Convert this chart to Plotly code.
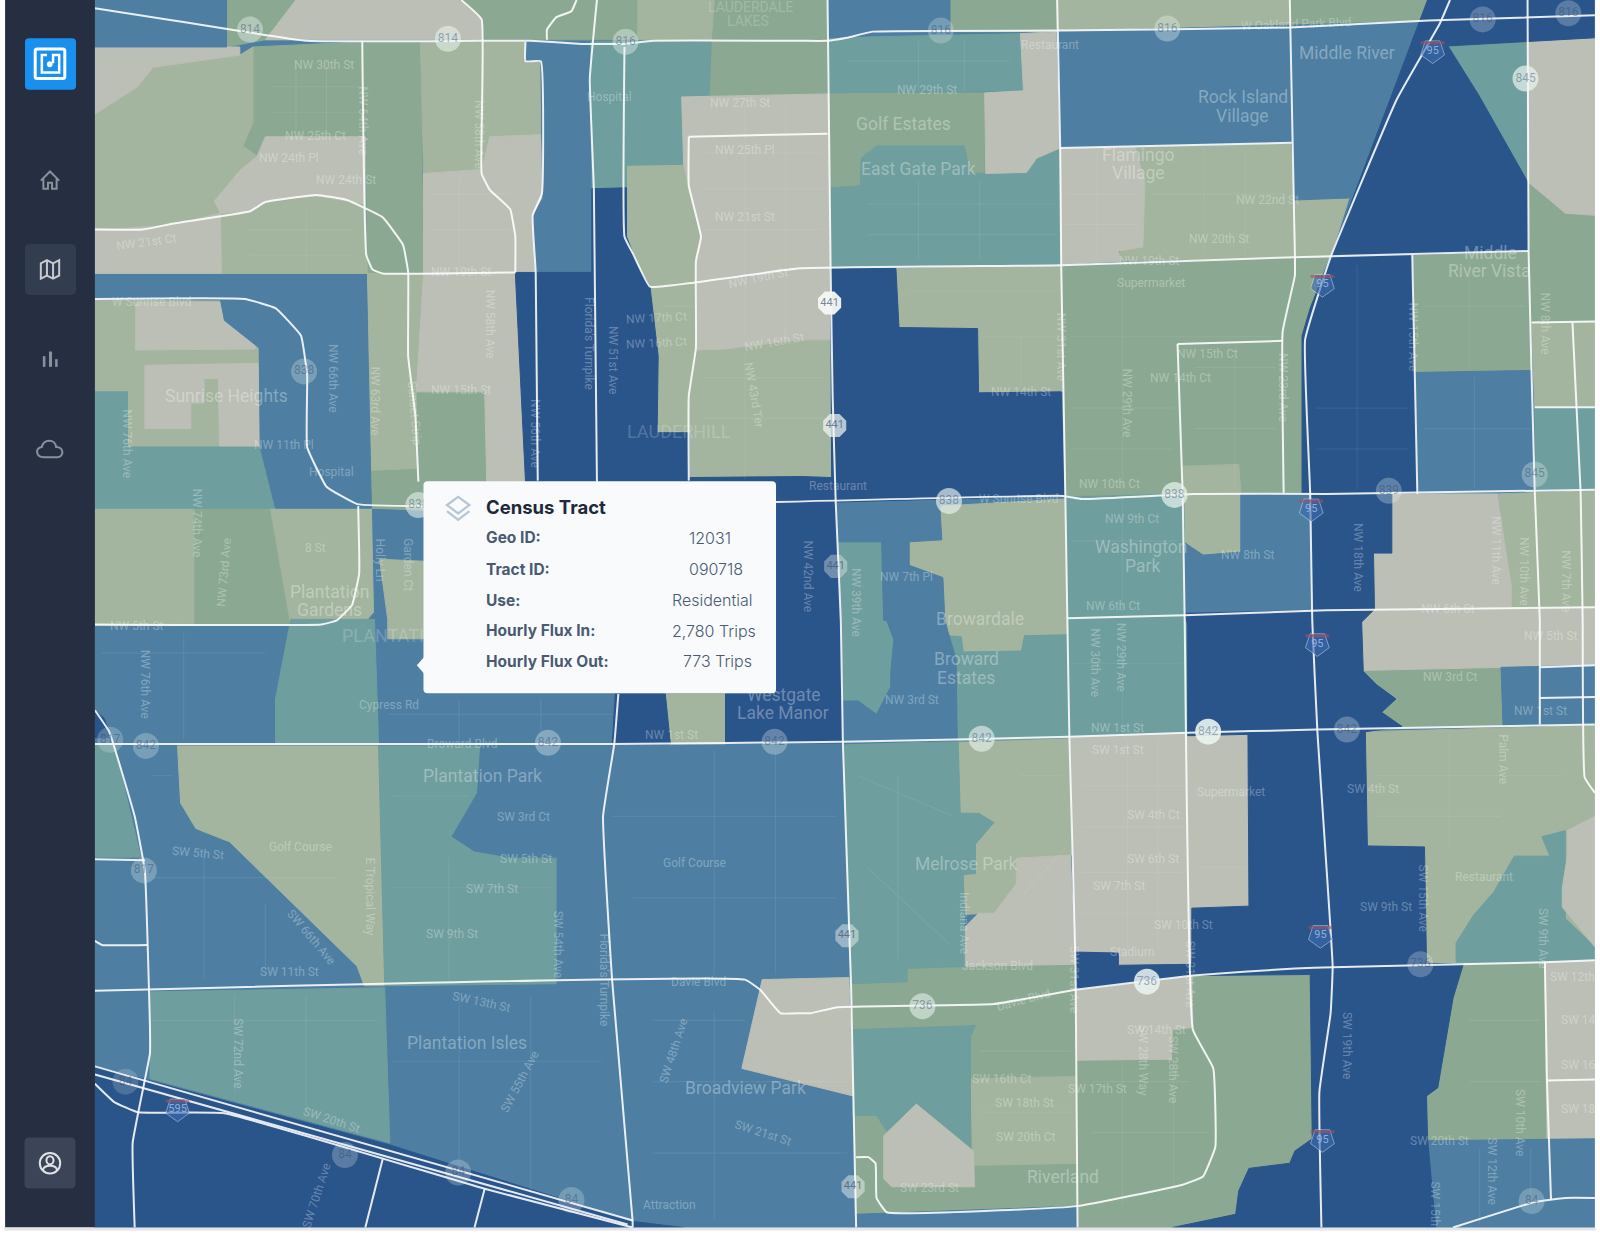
import plotly.graph_objects as go

# everything is in the units of the picture as seen at 1568 wide
map_left, map_right, map_bottom = 93, 1563, 1203

color_dark = "#2A558B"
color_blue = "#4E7FA2"
color_teal = "#6F9E9E"
color_green = "#8BA992"
color_light = "#A3B59E"
color_gray = "#BBBFB6"

base_tract = [(93, 0), (1563, 0), (1563, 1203), (93, 1203)]

green_tracts = [
    [(248, 46), (358, 41), (358, 134), (260, 134), (252, 153), (238, 143), (248, 120)],
    [(358, 41), (412, 41), (415, 268), (360, 268)],
    [(222, 0), (290, 0), (260, 39), (222, 46)],
    [(450, 0), (565, 0), (537, 39), (472, 39), (472, 19)],
    [(565, 0), (625, 0), (625, 39), (537, 39)],
    [(700, 0), (811, 0), (811, 37), (697, 40)],
    [(697, 40), (812, 37), (812, 92), (668, 95), (695, 93)],
    [(408, 384), (475, 384), (477, 472), (415, 472), (415, 500), (364, 498), (363, 461), (408, 459)],
    [(190, 498), (265, 498), (285, 613), (190, 613)],
    [(931, 0), (1036, 0), (1036, 31), (931, 31)],
    [(1264, 0), (1399, 0), (1392, 23), (1264, 27)],
    [(811, 91), (965, 91), (965, 170), (951, 170), (945, 143), (859, 143), (844, 155), (843, 182), (814, 184)],
    [(1040, 260), (1304, 252), (1277, 329), (1276, 483), (1044, 486)],
    [(1384, 250), (1498, 247), (1501, 364), (1387, 365)],
    [(1497, 178), (1534, 209), (1563, 211), (1563, 316), (1501, 316), (1498, 246)],
    [(1336, 657), (1471, 654), (1473, 712), (1374, 713), (1354, 698), (1368, 685), (1349, 671)],
    [(1434, 945), (1514, 943), (1516, 1116), (1399, 1118), (1398, 1074), (1409, 1066), (1415, 1032), (1424, 978)],
    [(834, 964), (889, 962), (889, 949), (1054, 945), (1056, 1182), (839, 1190)],
    [(1056, 1039), (1148, 1038), (1149, 1009), (1169, 1007), (1169, 956), (1284, 955), (1286, 1116), (1269, 1128), (1264, 1140), (1224, 1145), (1214, 1167), (1211, 1190), (1149, 1203), (1056, 1203)],
    [(480, 1190), (492, 1180), (600, 1203), (470, 1203)],
]

light_tracts = [
    [(93, 112), (135, 85), (150, 66), (235, 54), (248, 46), (248, 120), (238, 143), (252, 153), (235, 167), (210, 197), (216, 209), (170, 220), (120, 224), (93, 224)],
    [(215, 209), (245, 207), (260, 197), (310, 192), (358, 200), (360, 268), (217, 268)],
    [(412, 41), (515, 41), (515, 60), (530, 60), (530, 132), (480, 134), (472, 166), (415, 170)],
    [(625, 0), (700, 0), (697, 40), (625, 39)],
    [(614, 162), (670, 161), (675, 180), (687, 232), (682, 252), (683, 279), (637, 281), (625, 260), (614, 232)],
    [(637, 281), (683, 279), (683, 343), (710, 342), (784, 333), (814, 333), (818, 472), (675, 472), (675, 424), (644, 424), (645, 349)],
    [(93, 293), (216, 294), (220, 314), (254, 341), (255, 438), (93, 438)],
    [(360, 268), (415, 268), (408, 384), (408, 459), (363, 461)],
    [(93, 498), (190, 498), (190, 613), (93, 613)],
    [(265, 498), (364, 498), (366, 600), (355, 613), (285, 613)],
    [(372, 548), (415, 550), (415, 626), (380, 626), (380, 607)],
    [(652, 680), (711, 680), (711, 729), (657, 729)],
    [(174, 731), (371, 731), (377, 966), (357, 966), (350, 947), (275, 874), (225, 825), (192, 812), (177, 787)],
    [(1036, 0), (1264, 0), (1264, 27), (1036, 31)],
    [(1112, 143), (1266, 140), (1270, 252), (1096, 256), (1098, 244), (1120, 242), (1122, 178)],
    [(1269, 196), (1322, 194), (1304, 252), (1270, 252)],
    [(878, 263), (1040, 260), (1041, 384), (959, 385), (958, 322), (881, 321)],
    [(1159, 457), (1214, 455), (1216, 484), (1216, 541), (1179, 544), (1161, 531)],
    [(1501, 316), (1563, 315), (1563, 399), (1504, 399)],
    [(921, 496), (1044, 489), (1046, 608), (926, 608), (924, 566), (891, 554), (891, 531), (923, 529)],
    [(926, 608), (1046, 608), (1046, 622), (1004, 623), (1001, 638), (944, 639), (942, 624), (929, 623)],
    [(939, 727), (1048, 723), (1050, 838), (996, 841), (996, 866), (974, 895), (946, 896), (944, 857), (956, 856), (956, 827), (974, 806), (959, 797), (941, 797)],
    [(951, 1057), (1054, 1055), (1056, 1140), (954, 1142)],
    [(1467, 484), (1563, 481), (1563, 598), (1481, 597)],
    [(1338, 717), (1563, 711), (1563, 939), (1434, 945), (1398, 944), (1396, 830), (1340, 829)],
]

teal_tracts = [
    [(578, 41), (697, 41), (695, 93), (668, 95), (670, 161), (614, 162), (614, 184), (580, 185)],
    [(93, 384), (125, 384), (125, 438), (255, 438), (270, 498), (93, 498)],
    [(285, 607), (367, 607), (371, 729), (270, 729), (270, 685)],
    [(93, 730), (112, 730), (138, 840), (93, 840)],
    [(371, 731), (470, 731), (467, 777), (442, 820), (465, 835), (500, 841), (545, 841), (545, 964), (377, 966)],
    [(147, 972), (377, 968), (382, 1120), (147, 1057)],
    [(811, 37), (1000, 33), (1003, 89), (811, 91)],
    [(843, 182), (844, 155), (859, 143), (945, 143), (951, 170), (1006, 169), (1016, 155), (1039, 145), (1040, 260), (814, 262), (814, 184)],
    [(1419, 45), (1497, 41), (1497, 178), (1449, 93)],
    [(1504, 399), (1563, 399), (1563, 480), (1505, 480)],
    [(821, 531), (864, 531), (869, 608), (876, 627), (873, 658), (873, 673), (859, 700), (841, 687), (826, 687), (824, 608)],
    [(929, 623), (942, 624), (944, 639), (1001, 638), (1004, 623), (1046, 622), (1049, 723), (939, 727), (937, 646)],
    [(1044, 487), (1160, 484), (1164, 721), (1049, 723)],
    [(826, 729), (939, 727), (941, 797), (959, 797), (974, 806), (956, 827), (956, 856), (944, 857), (946, 947), (889, 949), (889, 962), (834, 964)],
    [(836, 1009), (956, 1005), (951, 1016), (951, 1128), (898, 1082), (869, 1109), (859, 1093), (836, 1093)],
    [(1427, 943), (1427, 924), (1444, 897), (1464, 874), (1484, 839), (1519, 839), (1511, 820), (1534, 814), (1534, 900), (1563, 928), (1563, 943)],
]

gray_tracts = [
    [(93, 46), (235, 46), (235, 54), (150, 66), (135, 85), (93, 112)],
    [(93, 224), (120, 224), (170, 220), (216, 209), (217, 268), (93, 268)],
    [(252, 153), (260, 134), (358, 134), (358, 200), (310, 192), (260, 197), (245, 207), (216, 209), (210, 197), (235, 167)],
    [(260, 39), (290, 0), (450, 0), (472, 19), (472, 39)],
    [(415, 170), (472, 166), (480, 134), (530, 132), (532, 194), (522, 212), (525, 268), (415, 268)],
    [(668, 95), (812, 92), (814, 333), (784, 333), (710, 342), (683, 343), (683, 279), (682, 252), (687, 232), (675, 180), (670, 161)],
    [(133, 296), (216, 296), (220, 314), (250, 337), (250, 342), (133, 343)],
    [(142, 358), (253, 356), (255, 437), (215, 437), (214, 371), (200, 371), (200, 395), (187, 395), (187, 420), (142, 420)],
    [(415, 268), (505, 267), (515, 472), (477, 472), (475, 384), (408, 384)],
    [(1000, 33), (1036, 31), (1039, 145), (1016, 155), (1006, 169), (966, 170), (965, 91), (1003, 89)],
    [(1039, 145), (1112, 143), (1122, 178), (1120, 242), (1096, 246), (1098, 256), (1040, 259)],
    [(1497, 41), (1563, 37), (1563, 211), (1534, 209), (1521, 198), (1497, 178)],
    [(1364, 484), (1467, 484), (1481, 574), (1481, 595), (1347, 597), (1346, 542), (1364, 542)],
    [(1334, 597), (1563, 596), (1563, 652), (1471, 654), (1336, 657)],
    [(996, 841), (1049, 838), (1054, 945), (946, 947), (946, 908), (959, 895), (974, 895), (996, 866)],
    [(1049, 723), (1164, 719), (1223, 719), (1224, 888), (1168, 890), (1168, 945), (1096, 946), (1096, 934), (1054, 933)],
    [(1054, 970), (1168, 956), (1169, 1007), (1149, 1009), (1148, 1038), (1056, 1039)],
    [(747, 960), (832, 958), (836, 1074), (727, 1047)],
    [(898, 1082), (954, 1128), (955, 1163), (874, 1163), (866, 1155), (866, 1113)],
    [(1536, 814), (1563, 800), (1563, 928), (1531, 889), (1531, 870), (1536, 839)],
    [(1514, 943), (1563, 942), (1563, 1116), (1516, 1116)],
]

blue_tracts = [
    [(93, 0), (222, 0), (222, 46), (93, 46)],
    [(515, 41), (578, 41), (580, 267), (525, 267), (522, 213), (532, 194), (530, 60), (515, 60)],
    [(93, 269), (359, 269), (364, 498), (270, 498), (255, 438), (254, 341), (220, 314), (216, 294), (93, 293)],
    [(811, 0), (931, 0), (931, 31), (811, 37)],
    [(1036, 31), (1392, 21), (1322, 194), (1269, 196), (1266, 140), (1039, 145)],
    [(1387, 365), (1501, 363), (1504, 480), (1389, 483)],
    [(821, 496), (921, 496), (923, 529), (891, 531), (891, 554), (924, 566), (926, 608), (866, 608), (864, 531), (821, 531)],
    [(826, 687), (841, 687), (859, 700), (873, 673), (873, 658), (876, 627), (869, 608), (926, 608), (929, 619), (937, 646), (938, 725), (826, 729)],
    [(1216, 484), (1284, 484), (1286, 597), (1161, 601), (1161, 532), (1179, 544), (1216, 541)],
    [(1471, 654), (1563, 652), (1563, 710), (1473, 712)],
    [(1399, 1118), (1563, 1116), (1563, 1203), (1407, 1203)],
    [(839, 1190), (1056, 1182), (1056, 1203), (839, 1203)],
]

dark_tracts = [
    [(580, 185), (614, 184), (614, 232), (625, 260), (637, 281), (645, 349), (644, 424), (675, 424), (675, 472), (515, 472), (505, 267), (580, 267)],
    [(603, 680), (652, 680), (657, 729), (600, 729)],
    [(93, 696), (102, 704), (109, 723), (93, 723)],
    [(93, 1045), (150, 1060), (382, 1122), (620, 1197), (670, 1203), (93, 1203)],
    [(1399, 0), (1563, 0), (1563, 37), (1497, 41), (1419, 45), (1449, 93), (1497, 178), (1498, 246), (1304, 252)],
    [(814, 263), (878, 263), (881, 321), (958, 322), (959, 385), (1040, 384), (1043, 486), (819, 492), (675, 492), (675, 468), (785, 467), (815, 468)],
    [(740, 480), (818, 480), (824, 608), (826, 728), (711, 728), (711, 680), (740, 680)],
    [(1304, 251), (1384, 250), (1389, 483), (1276, 483), (1276, 329), (1284, 302)],
    [(1284, 484), (1364, 484), (1364, 542), (1346, 542), (1347, 597), (1286, 597)],
    [(1164, 608), (1334, 597), (1336, 658), (1349, 671), (1368, 685), (1354, 698), (1374, 712), (1339, 717), (1164, 721)],
    [(1223, 719), (1338, 716), (1340, 829), (1396, 830), (1398, 944), (1434, 945), (1424, 978), (1415, 1032), (1409, 1066), (1398, 1074), (1399, 1116), (1407, 1203), (1149, 1203), (1211, 1190), (1214, 1167), (1224, 1145), (1264, 1140), (1269, 1128), (1286, 1116), (1284, 955), (1168, 956), (1168, 890), (1224, 888)],
    [(1054, 933), (1096, 934), (1096, 946), (1168, 945), (1168, 956), (1054, 970)],
    [(1161, 601), (1347, 597), (1334, 610), (1164, 612)],
]

main_roads = [
    [(93, 8), (170, 20), (300, 40), (470, 40), (520, 40), (570, 43), (612, 43), (640, 40), (784, 40), (810, 40), (830, 37), (855, 31), (1040, 30), (1264, 27), (1400, 20), (1563, 15)],
    [(355, 40), (359, 250), (365, 264), (375, 268), (505, 267)],
    [(93, 225), (140, 225), (170, 219), (245, 207), (260, 198), (310, 191), (340, 196), (375, 213), (395, 240), (400, 267), (400, 349), (407, 407), (410, 472)],
    [(452, 0), (472, 19), (472, 170), (480, 186), (500, 205), (505, 232), (505, 267)],
    [(565, 0), (560, 11), (545, 17), (536, 29), (536, 39)],
    [(585, 0), (578, 77), (582, 186), (585, 472)],
    [(515, 41), (515, 60), (530, 60), (531, 190), (522, 211), (525, 267), (527, 471)],
    [(612, 46), (612, 232), (620, 248), (637, 281), (680, 277), (784, 263), (1040, 260), (1269, 252), (1498, 246)],
    [(675, 134), (675, 182), (687, 232), (682, 256), (682, 341), (675, 388), (675, 471)],
    [(675, 134), (811, 131)],
    [(811, 0), (814, 263), (816, 388), (819, 492), (824, 608), (826, 727), (834, 964), (839, 1203)],
    [(1036, 0), (1039, 145), (1040, 260), (1044, 485), (1046, 606), (1048, 723), (1054, 945), (1056, 1203)],
    [(1039, 145), (1266, 140)],
    [(1264, 0), (1269, 250), (1269, 270), (1257, 325), (1258, 483)],
    [(1421, 0), (1411, 23), (1369, 97), (1304, 252), (1279, 333), (1284, 484), (1286, 608), (1291, 716), (1306, 947), (1304, 993), (1293, 1070), (1295, 1203)],
    [(93, 293), (240, 293), (270, 302), (295, 329), (301, 368), (301, 438), (320, 477), (350, 494), (415, 496)],
    [(760, 492), (1042, 486), (1060, 489), (1170, 484), (1300, 484), (1563, 480)],
    [(351, 496), (352, 562), (345, 593), (330, 608), (315, 612), (93, 612)],
    [(1154, 337), (1159, 484), (1161, 608), (1169, 1009), (1189, 1047), (1191, 1124), (1179, 1153), (1159, 1161), (1056, 1182), (869, 1188), (859, 1174), (858, 1140), (851, 1134), (839, 1134)],
    [(1154, 337), (1257, 334)],
    [(1384, 250), (1389, 484)],
    [(1497, 0), (1498, 246), (1504, 480), (1509, 608), (1509, 710)],
    [(1541, 316), (1549, 482), (1551, 608), (1553, 762), (1563, 777)],
    [(1501, 316), (1563, 315)],
    [(1504, 399), (1563, 399)],
    [(1046, 606), (1161, 603), (1300, 598), (1563, 595)],
    [(1509, 654), (1563, 652)],
    [(1509, 684), (1563, 683)],
    [(93, 729), (600, 729), (826, 727), (1048, 722), (1164, 718), (1290, 715), (1563, 710)],
    [(93, 971), (730, 960), (745, 970), (765, 993), (784, 993), (794, 993), (821, 987), (974, 984), (1054, 970), (1169, 956), (1269, 949), (1306, 948), (1514, 943), (1563, 941)],
    [(606, 680), (602, 729), (591, 800), (600, 962), (620, 1197), (620, 1203)],
    [(93, 696), (107, 717), (132, 800), (142, 854), (147, 1009), (147, 1032), (130, 1120), (132, 1203)],
    [(93, 842), (142, 843)],
    [(93, 922), (100, 926), (145, 926)],
    [(93, 1045), (620, 1196)],
    [(93, 1053), (615, 1200)],
    [(93, 1062), (112, 1080), (135, 1090), (220, 1091), (475, 1165), (620, 1203)],
    [(375, 1136), (358, 1203)],
    [(475, 1165), (465, 1203)],
    [(1424, 1203), (1504, 1178), (1534, 1174), (1563, 1174)],
    [(1514, 943), (1516, 1059), (1520, 1176)],
    [(1516, 1059), (1563, 1058)],
]

minor_streets = [
    [(265, 85), (355, 85)], [(265, 110), (355, 110)], [(290, 60), (290, 130)], [(320, 60), (320, 130)],
    [(245, 225), (345, 225)], [(245, 250), (345, 250)], [(300, 205), (300, 265)],
    [(420, 190), (500, 190)], [(420, 225), (500, 225)], [(450, 175), (450, 265)],
    [(690, 150), (805, 150)], [(690, 185), (805, 185)], [(690, 225), (805, 225)], [(730, 100), (730, 330)], [(770, 100), (770, 330)],
    [(650, 300), (680, 300)], [(690, 370), (810, 370)], [(690, 410), (810, 410)], [(730, 345), (730, 470)],
    [(830, 60), (990, 60)], [(900, 40), (900, 90)], [(945, 40), (945, 90)], [(850, 200), (1035, 200)], [(850, 230), (1035, 230)], [(900, 175), (900, 255)], [(960, 175), (960, 255)],
    [(1045, 190), (1115, 190)], [(1045, 220), (1115, 220)], [(1075, 150), (1075, 255)], [(1130, 190), (1260, 190)], [(1180, 145), (1180, 250)], [(1220, 145), (1220, 250)],
    [(890, 285), (1035, 285)], [(960, 330), (1035, 330)], [(1000, 330), (1000, 380)],
    [(1050, 330), (1250, 330)], [(1050, 400), (1150, 400)], [(1050, 440), (1150, 440)], [(1100, 265), (1100, 480)], [(1170, 360), (1250, 360)], [(1170, 420), (1250, 420)], [(1210, 340), (1210, 480)],
    [(1290, 400), (1380, 400)], [(1290, 440), (1380, 440)], [(1330, 260), (1330, 480)], [(1395, 300), (1495, 300)], [(1440, 255), (1440, 360)], [(1395, 420), (1500, 420)], [(1445, 370), (1445, 478)],
    [(1050, 530), (1155, 530)], [(1100, 490), (1100, 600)], [(1050, 650), (1160, 650)], [(1100, 625), (1100, 720)],
    [(1060, 770), (1160, 770)], [(1060, 810), (1160, 810)], [(1060, 855), (1160, 855)], [(1060, 895), (1160, 895)], [(1105, 725), (1105, 930)], [(1135, 725), (1135, 930)], [(1175, 780), (1220, 780)], [(1175, 850), (1220, 850)],
    [(1350, 760), (1530, 760)], [(1350, 800), (1470, 800)], [(1420, 720), (1420, 830)],
    [(840, 760), (935, 800)], [(850, 850), (930, 925)], [(880, 760), (880, 940)], [(1000, 760), (1040, 760)], [(1000, 880), (1045, 830)],
    [(600, 800), (820, 800)], [(620, 880), (820, 880)], [(700, 735), (700, 955)], [(760, 735), (760, 955)],
    [(150, 760), (170, 760)], [(150, 860), (330, 860)], [(200, 840), (200, 960)], [(260, 885), (260, 950)], [(150, 1000), (370, 1000)], [(230, 975), (230, 1070)], [(300, 975), (300, 1090)],
    [(385, 780), (460, 780)], [(385, 870), (540, 870)], [(440, 840), (440, 960)], [(385, 1040), (590, 1040)], [(450, 975), (450, 1150)], [(520, 975), (520, 1170)],
    [(100, 640), (260, 640)], [(180, 620), (180, 725)], [(380, 700), (600, 700)], [(450, 685), (450, 725)], [(530, 685), (530, 725)],
    [(640, 1000), (730, 1000)], [(640, 1060), (830, 1060)], [(640, 1130), (830, 1130)], [(700, 990), (700, 1195)],
    [(1070, 1060), (1165, 1060)], [(1070, 1110), (1185, 1110)], [(1100, 1040), (1100, 1180)], [(1150, 1040), (1150, 1170)], [(960, 1090), (1050, 1090)], [(960, 1030), (1050, 1030)],
    [(1440, 1000), (1510, 1000)], [(1440, 1060), (1510, 1060)], [(1450, 1125), (1450, 1200)], [(1500, 1125), (1500, 1170)],
]

# x, y, route number
circle_x = [245, 439, 613, 922, 1144, 1453, 1537, 1495, 298, 410, 930, 1151, 1361, 1504, 108, 143, 537, 759, 962, 1184, 1320, 141, 123, 338, 449, 560, 1501, 904, 1124, 1392]
circle_y = [29, 38, 41, 30, 28, 19, 13, 77, 364, 495, 491, 485, 481, 465, 725, 731, 728, 727, 724, 717, 715, 853, 1060, 1132, 1149, 1176, 1177, 986, 962, 945]
circle_num = ["814", "814", "816", "816", "816", "816", "816", "845", "838", "838", "838", "838", "839", "845", "817", "842", "842", "842", "842", "842", "842", "817", "84", "84", "84", "84", "84", "736", "736", "736"]
circle_alpha = [0.4, 0.55, 0.4, 0.25, 0.35, 0.25, 0.25, 0.7, 0.28, 0.55, 0.65, 0.7, 0.28, 0.3, 0.22, 0.28, 0.35, 0.3, 0.6, 0.9, 0.28, 0.28, 0.18, 0.25, 0.25, 0.25, 0.25, 0.55, 0.85, 0.25]

us_x = [813, 818, 819, 830, 836]
us_y = [297, 417, 555, 917, 1163]
us_num = ["441", "441", "441", "441", "441"]
us_alpha = [0.95, 0.7, 0.35, 0.45, 0.45]

interstate_x = [1404, 1296, 1285, 1291, 1294, 1296, 174]
interstate_y = [50, 279, 499, 631, 917, 1117, 1087]
interstate_num = ["95", "95", "95", "95", "95", "95", "595"]

# text, x, y
place_labels = [
    ("Middle River", 1320, 52), ("Rock Island", 1218, 95),
    ("Village", 1218, 114), ("Flamingo", 1116, 152), ("Village", 1116, 170), ("Golf Estates", 885, 122),
    ("East Gate Park", 900, 166), ("Middle", 1461, 248), ("River Vista", 1460, 266), ("Sunrise Heights", 222, 388),
    ("Plantation", 323, 580), ("Gardens", 323, 598),
    ("Washington", 1118, 536), ("Park", 1120, 555), ("Browardale", 960, 607), ("Broward", 947, 646),
    ("Estates", 947, 664), ("Westgate", 768, 681), ("Lake Manor", 767, 699), ("Plantation Park", 473, 760),
    ("Melrose Park", 947, 847), ("Plantation Isles", 458, 1022), ("Broadview Park", 731, 1066), ("Riverland", 1042, 1153),
]

# the town names are fainter than the neighbourhoods
town_labels = [
    ("LAUDERDALE", 735, 7, 14), ("LAKES", 733, 21, 14), ("LAUDERHILL", 665, 423, 18), ("PLANTATI", 375, 623, 18),
]

# text, x, y, angle
street_labels = [
    ("NW 30th St", 318, 64, 0), ("NW 25th Ct", 309, 133, 0), ("NW 24th Pl", 283, 155, 0), ("NW 24th St", 339, 176, 0),
    ("NW 21st Ct", 144, 237, -8), ("W Sunrise Blvd", 148, 296, 0), ("NW 27th St", 725, 101, 0), ("NW 25th Pl", 730, 147, 0),
    ("NW 21st St", 730, 213, 0), ("NW 19th St", 452, 267, 0), ("NW 19th St", 743, 272, -12), ("NW 17th Ct", 643, 312, -3),
    ("NW 16th Ct", 643, 336, -3), ("NW 16th St", 759, 335, -10), ("NW 15th St", 452, 382, 0), ("NW 11th Pl", 278, 436, 0),
    ("Hospital", 325, 463, 0), ("Hospital", 597, 95, 0), ("Restaurant", 1029, 44, 0), ("NW 29th St", 908, 88, 0),
    ("NW 22nd St", 1242, 196, 0), ("NW 20th St", 1195, 234, 0), ("NW 19th St", 1126, 256, 0), ("Supermarket", 1128, 277, 0),
    ("W Oakland Park Blvd", 1270, 24, -2), ("NW 15th Ct", 1183, 347, 0), ("NW 14th Ct", 1157, 370, 0), ("NW 14th St", 1001, 384, 0),
    ("NW 10th Ct", 1087, 474, 0), ("W Sunrise Blvd", 998, 489, 0), ("NW 9th Ct", 1109, 509, 0), ("NW 8th St", 1223, 544, 0),
    ("NW 6th Ct", 1091, 594, 0), ("NW 6th St", 1419, 597, 0), ("NW 5th St", 1520, 623, 0), ("NW 3rd Ct", 1421, 663, 0),
    ("NW 1st St", 1510, 697, 0), ("NW 1st St", 1095, 713, 0), ("SW 1st St", 1096, 735, 0), ("Restaurant", 821, 476, 0),
    ("NW 7th Pl", 888, 565, 0), ("NW 3rd St", 894, 686, 0), ("NW 1st St", 658, 720, 0), ("Cypress Rd", 381, 691, 0),
    ("Broward Blvd", 453, 729, 0), ("8 St", 309, 537, 0), ("NW 5th St", 134, 613, 0), ("SW 3rd Ct", 513, 801, 0),
    ("SW 5th St", 515, 842, 0), ("SW 7th St", 482, 871, 0), ("SW 9th St", 443, 915, 0), ("SW 5th St", 194, 836, 5),
    ("SW 11th St", 284, 953, 0), ("SW 13th St", 472, 982, 12), ("Golf Course", 294, 830, 0), ("Golf Course", 681, 846, 0),
    ("SW 20th St", 325, 1098, 18), ("SW 21st St", 748, 1110, 18), ("Attraction", 656, 1181, 0), ("Davie Blvd", 685, 962, 0),
    ("Davie Blvd", 1003, 980, -15), ("Jackson Blvd", 978, 947, 0), ("Supermarket", 1206, 776, 0), ("SW 4th Ct", 1130, 799, 0),
    ("SW 6th St", 1130, 842, 0), ("SW 7th St", 1097, 868, 0), ("SW 10th St", 1160, 906, 0), ("Stadium", 1109, 933, 0),
    ("SW 14th St", 1133, 1009, 0), ("SW 16th Ct", 982, 1057, 0), ("SW 17th St", 1076, 1067, 0), ("SW 18th St", 1004, 1081, 0),
    ("SW 20th Ct", 1005, 1114, 0), ("SW 23rd St", 911, 1164, 0), ("SW 4th St", 1346, 773, 0), ("SW 9th St", 1358, 889, 0),
    ("Restaurant", 1454, 859, 0), ("SW 20th St", 1411, 1118, 0), ("SW 12th", 1541, 957, 0), ("SW 14", 1546, 1000, 0),
    ("SW 16", 1546, 1044, 0), ("SW 18", 1546, 1087, 0), ("NW 64th Ave", 355, 118, 90), ("NW 58th Ave", 470, 132, 90),
    ("NW 58th Ave", 480, 318, 90), ("NW 66th Ave", 327, 371, 90), ("NW 63rd Ave", 367, 393, 90), ("Sunset Strip", 406, 405, 85),
    ("Florida's Turnpike", 577, 337, 90), ("NW 51st Ave", 601, 353, 90), ("NW 56th Ave", 525, 425, 90), ("NW 43rd Ter", 739, 387, 80),
    ("NW 76th Ave", 125, 435, 90), ("NW 74th Ave", 193, 513, 90), ("NW 73rd Ave", 220, 561, -85), ("Holly Ln", 372, 549, 90),
    ("Garden Ct", 400, 553, 90), ("NW 42nd Ave", 792, 565, 90), ("NW 39th Ave", 839, 590, 90), ("NW 31st Ave", 1040, 340, 90),
    ("NW 29th Ave", 1104, 395, 90), ("NW 23rd Ave", 1258, 380, 90), ("NW 15th Ave", 1385, 330, 90), ("NW 8th Ave", 1514, 317, 90),
    ("NW 18th Ave", 1331, 546, 90), ("NW 11th Ave", 1466, 540, 90), ("NW 10th Ave", 1493, 560, 90), ("NW 7th Ave", 1535, 570, 90),
    ("NW 30th Ave", 1073, 650, 90), ("NW 29th Ave", 1098, 644, 90), ("Palm Ave", 1473, 744, 90), ("NW 76th Ave", 142, 671, 90),
    ("SW 72nd Ave", 233, 1032, 90), ("E Tropical Way", 363, 879, 90), ("SW 54th Ave", 547, 925, 90), ("Florida's Turnpike", 592, 960, 90),
    ("SW 66th Ave", 305, 918, 50), ("SW 55th Ave", 509, 1060, -62), ("SW 48th Ave", 660, 1030, -72), ("Indiana Ave", 944, 905, 90),
    ("SW 31st Ave", 1053, 960, 90), ("SW 31st Ave", 1167, 955, 90), ("SW 28th Way", 1120, 1040, 90), ("SW 28th Ave", 1149, 1048, 90),
    ("SW 19th Ave", 1320, 1025, 90), ("SW 15th Ave", 1395, 880, 90), ("SW 10th Ave", 1489, 1100, 90), ("SW 12th Ave", 1462, 1148, 90),
    ("SW 9th Ave", 1512, 920, 90), ("SW 70th Ave", 310, 1172, -72), ("SW 15th", 1406, 1180, 90),
]

tooltip_title = "Census Tract"
tooltip_keys = ["Geo ID:", "Tract ID:", "Use:", "Hourly Flux In:", "Hourly Flux Out:"]
tooltip_values = ["12031", "090718", "Residential", "2,780 Trips", "773 Trips"]
tooltip_value_x = [696, 702, 698, 700, 703]
tooltip_y = [527, 558, 588, 618, 648]


def line_xy(parts):
    xs, ys = [], []
    for part in parts:
        xs += [p[0] for p in part] + [None]
        ys += [p[1] for p in part] + [None]
    return xs, ys


def rounded(x0, y0, x1, y1, r):
    return (
        f"M {x0 + r},{y0} L {x1 - r},{y0} Q {x1},{y0} {x1},{y0 + r} L {x1},{y1 - r} Q {x1},{y1} {x1 - r},{y1} "
        f"L {x0 + r},{y1} Q {x0},{y1} {x0},{y1 - r} L {x0},{y0 + r} Q {x0},{y0} {x0 + r},{y0} Z"
    )


fig = go.Figure()

tract_layers = [
    ([base_tract], color_blue),
    (green_tracts, color_green),
    (light_tracts, color_light),
    (teal_tracts, color_teal),
    (gray_tracts, color_gray),
    (blue_tracts, color_blue),
    (dark_tracts, color_dark),
]
for tracts, colour in tract_layers:
    for tract in tracts:
        xs = [p[0] for p in tract] + [tract[0][0]]
        ys = [p[1] for p in tract] + [tract[0][1]]
        fig.add_trace(go.Scatter(x=xs, y=ys, mode="lines", fill="toself", fillcolor=colour, line=dict(color=colour, width=1)))

xs, ys = line_xy(minor_streets)
fig.add_trace(go.Scatter(x=xs, y=ys, mode="lines", line=dict(color="rgba(255,255,255,0.07)", width=1.2)))

xs, ys = line_xy(main_roads)
fig.add_trace(go.Scatter(x=xs, y=ys, mode="lines", line=dict(color="rgba(255,255,255,0.88)", width=2, shape="spline", smoothing=0.3)))

map_font = "Liberation Sans Narrow, Roboto"
fig.add_trace(go.Scatter(
    x=circle_x, y=circle_y, mode="markers+text", text=circle_num, textposition="middle center",
    textfont=dict(family=map_font, size=12, color="rgba(40,70,110,0.42)"),
    marker=dict(size=26, color=[f"rgba(235,245,240,{a})" for a in circle_alpha], line=dict(width=0)),
))
fig.add_trace(go.Scatter(
    x=us_x, y=us_y, mode="markers+text", text=us_num, textposition="middle center",
    textfont=dict(family=map_font, size=11, color="rgba(60,85,110,0.7)"),
    marker=dict(size=25, symbol="octagon", color=[f"rgba(245,248,245,{a})" for a in us_alpha], line=dict(width=0)),
))
fig.add_trace(go.Scatter(
    x=interstate_x, y=interstate_y, mode="markers+text", text=interstate_num, textposition="middle center",
    textfont=dict(family=map_font, size=11, color="rgba(170,195,230,0.8)"),
    marker=dict(size=25, symbol="pentagon", angle=180, color="rgba(60,105,175,0.6)", line=dict(width=1, color="rgba(255,255,255,0.4)")),
))
fig.add_trace(go.Scatter(
    x=interstate_x, y=[y - 8 for y in interstate_y], mode="markers",
    marker=dict(size=17, symbol="line-ew", line=dict(width=3, color="rgba(165,80,95,0.6)")),
))

annotations = []
for text, x, y in place_labels:
    annotations.append(dict(x=x, y=y, text=text, showarrow=False, font=dict(family=map_font, size=17.5, color="rgba(255,255,255,0.32)")))
for text, x, y, size in town_labels:
    annotations.append(dict(x=x, y=y, text=text, showarrow=False, font=dict(family=map_font, size=size, color="rgba(255,255,255,0.2)")))
for text, x, y, angle in street_labels:
    annotations.append(dict(x=x, y=y, text=text, textangle=angle, showarrow=False, font=dict(family=map_font, size=12, color="rgba(255,255,255,0.3)")))

tip_font = "Inter, Lato"
annotations.append(dict(x=474.5, y=497, text=f"<b>{tooltip_title}</b>", showarrow=False, xanchor="left", font=dict(family=tip_font, size=18.5, color="#1E293B")))
for key, val, vx, y in zip(tooltip_keys, tooltip_values, tooltip_value_x, tooltip_y):
    annotations.append(dict(x=474.5, y=y, text=f"<b>{key}</b>", showarrow=False, xanchor="left", font=dict(family=tip_font, size=15.5, color="#4A5A72")))
    annotations.append(dict(x=vx, y=y, text=val, showarrow=False, font=dict(family=tip_font, size=16, weight=300, color="#4A5A72")))

side_bg = "#252F41"
icon_dim = "#8A919C"
shapes = [
    dict(type="rect", x0=0, x1=5, y0=0, y1=1213, fillcolor="#FFFFFF", line_width=0),
    dict(type="rect", x0=5, x1=93, y0=0, y1=1203, fillcolor=side_bg, line_width=0),
    dict(type="rect", x0=map_right, x1=1568, y0=0, y1=1213, fillcolor="#FFFFFF", line_width=0),
    dict(type="rect", x0=0, x1=1568, y0=map_bottom, y1=1213, fillcolor="#FFFFFF", line_width=0),
    dict(type="rect", x0=4, x1=map_right + 1, y0=map_bottom, y1=map_bottom + 3, fillcolor="rgba(0,0,0,0.10)", line_width=0),
    dict(type="path", path=rounded(24.5, 37.6, 74.5, 88, 4), fillcolor="#1A90EE", line_width=0),
    dict(type="path", path=rounded(34.5, 48, 63.5, 77, 2), line=dict(color="#FFFFFF", width=3)),
    dict(type="path", path="M 46,54 L 41,54 L 41,71 L 58,71 L 58,54 L 52,54 L 52,62", line=dict(color="#FFFFFF", width=2.5)),
    dict(type="circle", x0=46, x1=51.5, y0=60, y1=66, fillcolor="#FFFFFF", line_width=0),
    dict(type="path", path="M 40,177 L 49,168 L 58,177 M 42.5,175 L 42.5,185 L 47,185 L 47,179 L 51,179 L 51,185 L 55.5,185 L 55.5,175", line=dict(color=icon_dim, width=2)),
    dict(type="path", path=rounded(24.5, 239, 74.5, 289, 5), fillcolor="#323D50", line_width=0),
    dict(type="path", path="M 40,258 L 46,255 L 52,258 L 58,255 L 58,270 L 52,273 L 46,270 L 40,273 Z M 46,255 L 46,270 M 52,258 L 52,273", line=dict(color="#C6C9CE", width=2)),
    dict(type="rect", x0=42, x1=44.5, y0=349, y1=359.5, fillcolor=icon_dim, line_width=0),
    dict(type="rect", x0=48, x1=51, y0=344.5, y1=359.5, fillcolor=icon_dim, line_width=0),
    dict(type="rect", x0=54, x1=56.5, y0=352, y1=359.5, fillcolor=icon_dim, line_width=0),
    dict(type="path", path="M 43,448 C 35,448 34,439 41,438 C 43,430 54,430 55,438 C 63,438 63,448 56,448 Z", line=dict(color=icon_dim, width=2)),
    dict(type="path", path=rounded(24, 1114.7, 74, 1164.8, 5), fillcolor="#3B4557", line_width=0),
    dict(type="circle", x0=39, x1=59, y0=1130, y1=1150, line=dict(color="#E0E2E5", width=2)),
    dict(type="circle", x0=45.5, x1=52.5, y0=1133, y1=1141, line=dict(color="#E0E2E5", width=2)),
    dict(type="path", path="M 42,1147 C 43,1141 55,1141 56,1147", line=dict(color="#E0E2E5", width=2)),
    dict(type="path", path=rounded(415, 471.5, 760.5, 679.5, 4), fillcolor="#F8FAFC", line_width=0),
    dict(type="path", path="M 408.5,652 L 415.5,644 L 415.5,660 Z", fillcolor="#F8FAFC", line_width=0),
    dict(type="path", path="M 449,487 L 460,495 L 449,503 L 438,495 Z M 438,501 L 449,509.5 L 460,501", line=dict(color="#B6C6D6", width=2.2)),
]

fig.update_layout(
    width=1600,
    height=1237,
    margin=dict(l=0, r=0, t=0, b=0),
    showlegend=False,
    hovermode=False,
    paper_bgcolor="#FFFFFF",
    plot_bgcolor="#FFFFFF",
    xaxis=dict(range=[0, 1568], visible=False, fixedrange=True),
    yaxis=dict(range=[1212.25, 0], visible=False, fixedrange=True),
    shapes=shapes,
    annotations=annotations,
)

fig.write_html(
    "out.html",
    config={"displayModeBar": False},
    post_script="document.body.style.margin='0';document.body.style.overflow='hidden';",
)
